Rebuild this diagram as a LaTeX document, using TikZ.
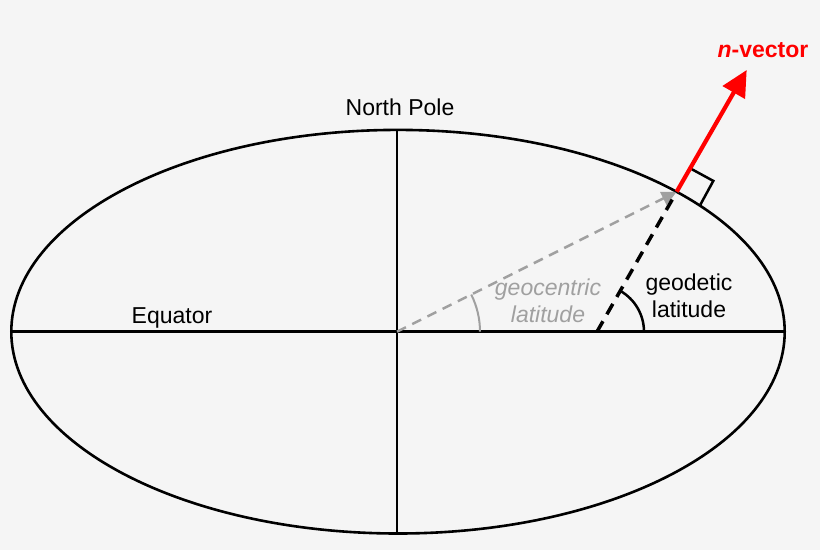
\documentclass[tikz,border=0pt]{standalone}
\usepackage{fontspec}
\setmainfont{Liberation Sans}
\usetikzlibrary{arrows.meta}
\definecolor{bg}{HTML}{F5F5F5}
\definecolor{lgray}{HTML}{A0A0A0}
\definecolor{nred}{HTML}{FF0000}
\tikzset{
  axis/.style={line width=2.6pt, black},
  lbl/.style={font=\fontsize{23}{27}\selectfont, align=center, inner sep=0pt},
  geoc/.style={line width=2.5pt, lgray, dash pattern=on 10pt off 7pt},
  geod/.style={line width=3.5pt, black, dash pattern=on 12pt off 8pt},
  nvec/.style={line width=4.2pt, nred, -{Triangle[length=26pt,width=25pt]}},
}
\begin{document}
\begin{tikzpicture}[x=1pt,y=-1pt]
\fill[bg] (0,0) rectangle (820,550);
\useasboundingbox (0,0) rectangle (820,550);
% key points
\coordinate (O) at (397,331.7);
\coordinate (C) at (398,331.7);
\coordinate (L) at (11.5,331.7);
\coordinate (R) at (785,331.7);
\coordinate (Tp) at (397,130);
\coordinate (Bt) at (397,533.5);
\coordinate (P) at (676.7,191.7);
\coordinate (G) at (597,331.7);
\coordinate (T) at (746.7,70);
\coordinate (RA1) at (689.6,168);
\coordinate (RA2) at (713.3,180.9);
\coordinate (RA3) at (700.4,204.6);
% ellipse and axes
\draw[axis] (C) ellipse [x radius=386.7, y radius=201.8];
\draw[axis] (L) -- (R);
\draw[axis] (Tp) -- (Bt);
% angles
\draw[lgray, line width=2pt] (O) ++(83,0) arc[start angle=0, end angle=-26.6, radius=83];
\draw[black, line width=2.5pt] (G) ++(47,0) arc[start angle=0, end angle=-60.4, radius=47];
% lines
\draw[geoc, -{Triangle[length=15pt,width=14pt]}] (O) -- (P);
\draw[geod] (G) -- (P);
\draw[line width=2.5pt, black] (RA1) -- (RA2) -- (RA3);
\draw[nvec] (P) -- (T);
% labels
\node[lbl] (np) at (400,107) {North Pole};
\node[lbl] (eq) at (172,318) {Equator};
\node[lbl, text=nred, font=\fontsize{23}{27}\selectfont\bfseries] (nv) at (763,50) {\textit{n}-vector};
\node[lbl, text=lgray, font=\fontsize{23}{27}\selectfont\itshape] (gc) at (548,301) {geocentric\\latitude};
\node[lbl] (gd) at (689,296) {geodetic\\latitude};
\end{tikzpicture}
\end{document}
